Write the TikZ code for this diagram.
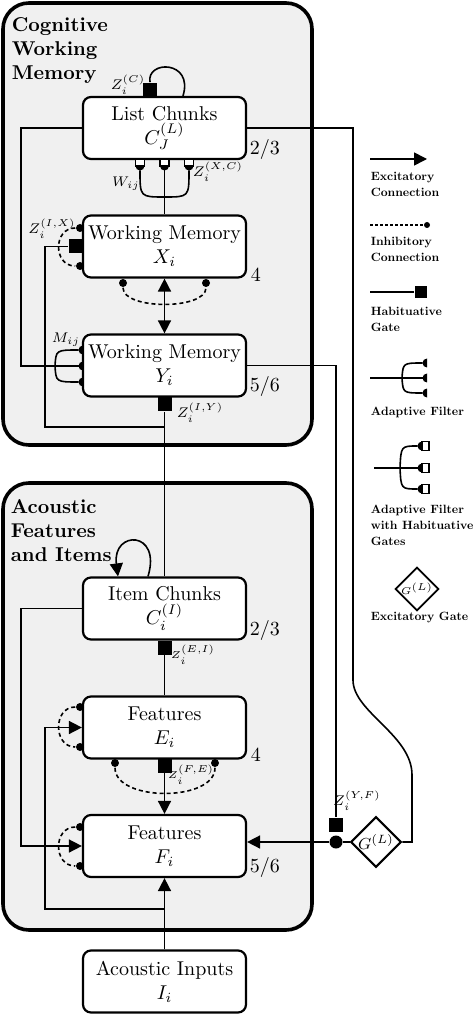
\documentclass[tikz,border=0pt]{standalone}
\usetikzlibrary{arrows.meta,shapes.geometric}
\font\legfont=cmbx10 at 6pt
\tikzset{
	box/.style={draw,line width=1.1pt,rounded corners=4pt,fill=white,minimum width=81.5pt,minimum height=31pt,align=center,inner sep=1pt},
	region/.style={draw,line width=1.8pt,rounded corners=13pt,fill=gray!12},
	title/.style={font=\bfseries,align=left,anchor=north west,inner sep=0pt},
	gate/.style={fill=black,minimum size=7pt,inner sep=0pt},
	dot/.style={circle,fill=black,minimum size=4pt,inner sep=0pt},
	num/.style={anchor=west,inner sep=0pt},
	zlab/.style={font=\scriptsize,inner sep=0pt},
	leg/.style={font={\legfont\baselineskip=8pt},align=left,anchor=north west,inner sep=0pt},
	ex/.style={-{Triangle[length=6.5pt,width=6.5pt]}},
	inh/.style={line width=0.8pt,dash pattern=on 2pt off 1.5pt},
	fdot/.pic={
		\fill (-2.25pt,0) arc[start angle=180,end angle=360,radius=2.25pt] -- cycle;
		\coordinate (-tip) at (0,-2.25pt);
	},
	hfilt/.pic={
		\draw[line width=0.6pt,fill=white] (-2.25pt,0) rectangle (2.25pt,3.5pt);
		\fill (-2.25pt,0) arc[start angle=180,end angle=360,radius=2.25pt] -- cycle;
		\coordinate (-tip) at (0,-2.25pt);
	}
}
\begin{document}
\begin{tikzpicture}[x=0.5pt,y=-0.5pt,line width=0.8pt]
	\useasboundingbox (0,0) rectangle (474,1015);
	% the two regions
	\draw[region] (3,3) rectangle (312,445);
	\draw[region] (3,483) rectangle (312,930);
	\node[title] (tcwm) at (11,17) {Cognitive\\Working\\Memory};
	\node[title] (tafi) at (10,499) {Acoustic\\Features\\and Items};

	% layers
	\node[box] (lc) at (164.5,128) {List Chunks\\$C_J^{(L)}$};
	\node[box] (wx) at (164.5,246.5) {Working Memory\\$X_i$};
	\node[box] (wy) at (164.5,365.5) {Working Memory\\$Y_i$};
	\node[box] (ic) at (164.5,608.5) {Item Chunks\\$C_i^{(I)}$};
	\node[box] (fe) at (164.5,727.5) {Features\\$E_i$};
	\node[box] (ff) at (164.5,846) {Features\\$F_i$};
	\node[box] (ai) at (164.5,981.5) {Acoustic Inputs\\$I_i$};
	\node[num] (nlc) at (249,150) {$2/3$};
	\node[num] (nwx) at (250,275) {$4$};
	\node[num] (nwy) at (249,387) {$5/6$};
	\node[num] (nic) at (249,630) {$2/3$};
	\node[num] (nfe) at (250,755) {$4$};
	\node[num] (nff) at (249,867) {$5/6$};

	% list chunks
	\node[gate] (gc) at (150,90) {};
	\node[zlab] (lzc) at (128,85) {$Z_i^{(C)}$};
	\draw (gc.north) .. controls (146,60) and (194,60) .. ([xshift=9.25pt]lc.north);
	\pic (w1) at (140,166) {hfilt};
	\pic (w2) at (164.5,166) {hfilt};
	\pic (w3) at (189,166) {hfilt};
	\coordinate (jw) at (164.5,197);
	\draw (w1-tip) .. controls (140,197) .. (jw);
	\draw (w3-tip) .. controls (189,197) .. (jw);
	\draw (w2-tip) -- (wx.north);
	\node[zlab] (lwij) at (126,184) {$W_{ij}$};
	\node[zlab] (lzxc) at (218,172) {$Z_i^{(X,C)}$};

	% working memory X
	\node[gate] (gx) at (76,246.5) {};
	\node[zlab] (lzix) at (52,229) {$Z_i^{(I,X)}$};
	\node[dot] (dx1) at (80,228) {};
	\node[dot] (dx2) at (80,266) {};
	\draw[inh] (dx1) .. controls (53,228) and (53,266) .. (dx2);
	\node[dot] (dx3) at (123,283) {};
	\node[dot] (dx4) at (206,283) {};
	\draw[inh] (dx3) .. controls (123,310) and (206,310) .. (dx4);
	\draw[{Triangle[length=6.5pt,width=6.5pt]}-{Triangle[length=6.5pt,width=6.5pt]}] (wx.south) -- (wy.north);

	% working memory Y
	\pic[rotate=-90] (m1) at (83,350) {fdot};
	\pic[rotate=-90] (m2) at (83,366) {fdot};
	\pic[rotate=-90] (m3) at (83,382) {fdot};
	\coordinate (jm) at (55,366);
	\draw (m1-tip) .. controls (56,350) .. (jm);
	\draw (m3-tip) .. controls (56,382) .. (jm);
	\draw (m2-tip) -- (jm);
	\node[zlab] (lmij) at (66,340) {$M_{ij}$};
	\draw (lc.west) -| (21,366) -- (jm);
	\node[gate] (gy) at (164.5,404) {};
	\node[zlab] (lziy) at (200,413) {$Z_i^{(I,Y)}$};
	\draw (gy.south) -- (ic.north);
	\coordinate (bx) at (164.5,427);
	\draw (bx) -| (45,246.5) -- (gx.west);

	% item chunks
	\draw[ex] ([xshift=-8.25pt]ic.north) .. controls (162,530) and (112,530) .. ([xshift=-23.25pt]ic.north);
	\node[gate] (gi) at (164.5,647.5) {};
	\node[zlab,font=\tiny] (lzei) at (193,655) {$Z_i^{(E,I)}$};
	\draw (gi.south) -- (fe.north);
	\draw[ex] (ic.west) -| (21,846) -- (ff.west);

	% features E
	\node[dot] (de1) at (80,707) {};
	\node[dot] (de2) at (80,747) {};
	\draw[inh] (de1) .. controls (53,707) and (53,747) .. (de2);
	\node[dot] (de3) at (115,763) {};
	\node[dot] (de4) at (215,763) {};
	\draw[inh] (de3) .. controls (115,802) and (215,802) .. (de4);
	\node[gate] (ge) at (164.5,765.5) {};
	\node[zlab,font=\tiny] (lzfe) at (191,775) {$Z_i^{(F,E)}$};
	\draw[ex] (ge.south) -- (ff.north);

	% features F
	\node[dot] (df1) at (80,827) {};
	\node[dot] (df2) at (80,866) {};
	\draw[inh] (df1) .. controls (53,827) and (53,866) .. (df2);
	\draw[ex] (ai.north) -- (ff.south);
	\coordinate (bi) at (164.5,909);
	\draw[ex] (bi) -| (45,727.5) -- (fe.west);

	% gated path from Y to F
	\node[diamond,draw,line width=1.1pt,inner sep=0pt,minimum width=21.5pt,minimum height=24.5pt,font=\footnotesize] (gl) at (376,842) {$G^{(L)}$};
	\node[circle,fill=black,minimum size=6.5pt,inner sep=0pt] (dyf) at (336,842) {};
	\node[gate] (gyf) at (336,825) {};
	\node[zlab] (lzyf) at (357,801) {$Z_i^{(Y,F)}$};
	\draw (wy.east) -| (gyf.north);
	\draw (gl.west) -- (dyf);
	\draw[ex] (dyf) -- (ff.east |- dyf);
	\draw (lc.east) -| (353,680) .. controls (353,712) and (412,735) .. (412,775) |- (gl.east);

	% legend
	\coordinate (le1) at (370,159);
	\coordinate (le2) at (427,159);
	\draw[ex] (le1) -- (le2);
	\node[leg] (lex) at (370,171) {Excitatory\\Connection};
	\coordinate (li1) at (370,225);
	\node[circle,fill=black,minimum size=3pt,inner sep=0pt] (li2) at (427,225) {};
	\draw[line width=0.6pt,dash pattern=on 1.5pt off 1pt] (li1) -- (li2);
	\node[leg] (lin) at (370,236) {Inhibitory\\Connection};
	\coordinate (lh1) at (370,292);
	\node[gate,minimum size=6pt] (lh2) at (421,292) {};
	\draw (lh1) -- (lh2);
	\node[leg] (lhg) at (370,306) {Habituative\\Gate};
	\coordinate (la1) at (370,378);
	\coordinate (ja) at (402,378);
	\pic[rotate=-90] (a1) at (427,363) {fdot};
	\pic[rotate=-90] (a2) at (427,378) {fdot};
	\pic[rotate=-90] (a3) at (427,393) {fdot};
	\draw (la1) -- (a2-tip);
	\draw (a1-tip) .. controls (403,363) .. (ja);
	\draw (a3-tip) .. controls (403,393) .. (ja);
	\node[leg] (laf) at (370,406) {Adaptive Filter};
	\coordinate (lg1) at (374,468);
	\coordinate (jg) at (400,468);
	\pic[rotate=-90] (h1) at (422,446) {hfilt};
	\pic[rotate=-90] (h2) at (422,468) {hfilt};
	\pic[rotate=-90] (h3) at (422,489) {hfilt};
	\draw (lg1) -- (h2-tip);
	\draw (h1-tip) .. controls (401,446) .. (jg);
	\draw (h3-tip) .. controls (401,489) .. (jg);
	\node[leg] (lah) at (370,504) {Adaptive Filter\\with Habituative\\Gates};
	\node[diamond,draw,line width=0.9pt,inner sep=0pt,minimum width=16.5pt,minimum height=13pt,font=\tiny] (lgd) at (417,589) {$G^{(L)}$};
	\node[leg] (leg) at (370,611) {Excitatory Gate};
\end{tikzpicture}
\end{document}
